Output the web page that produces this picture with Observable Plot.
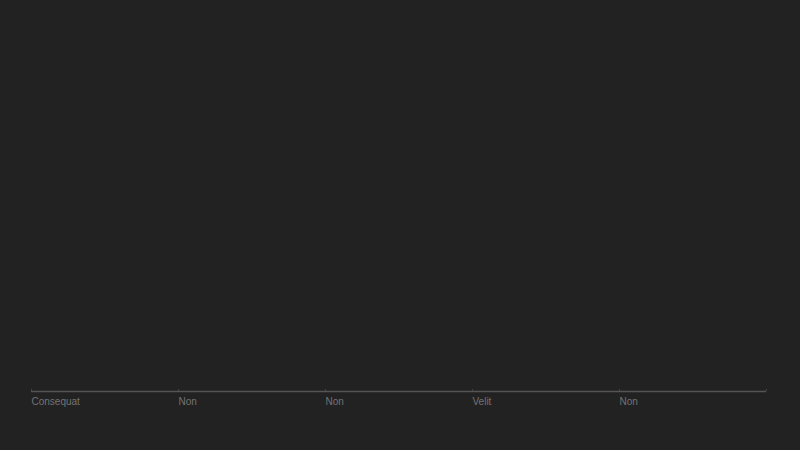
<!DOCTYPE html>
<html>
<head>
<meta charset="utf-8">
<script src="https://cdn.jsdelivr.net/npm/d3@7"></script>
<script src="https://cdn.jsdelivr.net/npm/@observablehq/plot@0.6"></script>
<style>
  html, body { margin: 0; padding: 0; background: #222222; }
  #chart { width: 800px; height: 450px; }
</style>
</head>
<body>
<div id="chart"></div>
<script>
const categories = ["Consequat", "Non", "Non", "Velit", "Non"];
const values = [0, 0, 0, 0, 0];

const rows = categories.map((c, i) => ({i, label: c, value: values[i]}));
const bounds = d3.range(categories.length + 1);

const chart = Plot.plot({
  width: 800,
  height: 450,
  marginLeft: 31,
  marginRight: 34,
  marginTop: 20,
  marginBottom: 59,
  style: {background: "#222222", fontFamily: "Liberation Sans, Arial, sans-serif"},
  x: {domain: [0, categories.length], axis: null},
  y: {domain: [0, 1], axis: null},
  marks: [
    Plot.rectY(rows, {x1: "i", x2: d => d.i + 1, y: "value", fill: "#4e79a7"}),
    Plot.ruleY([0], {stroke: "#555555", strokeWidth: 1.5}),
    Plot.ruleX(bounds, {x: d => d, y1: 0, y2: 0, insetTop: -2, stroke: "#444444"}),
    Plot.text(rows, {x: "i", y: 0, text: "label", textAnchor: "start", dy: 10, fill: "#737373", fontSize: 10})
  ]
});
document.getElementById("chart").appendChild(chart);
</script>
</body>
</html>
